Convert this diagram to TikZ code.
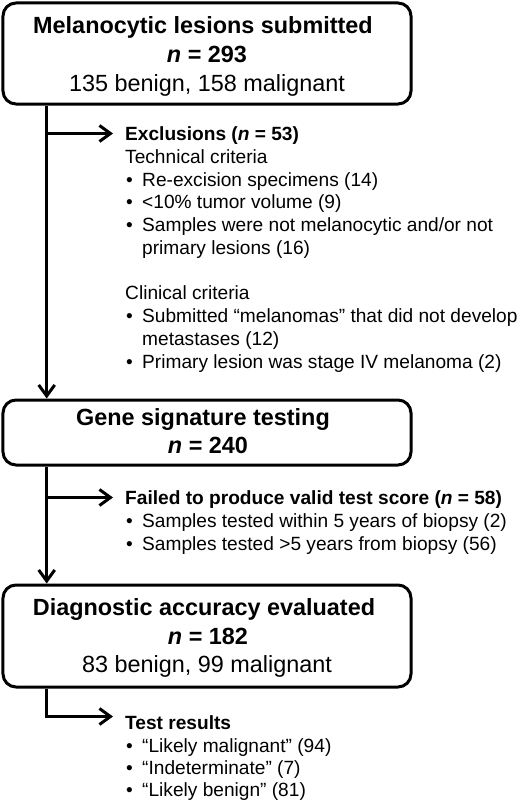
\documentclass[tikz,border=0pt]{standalone}
\usepackage{fontspec}
\setmainfont{Liberation Sans}
\usetikzlibrary{arrows.meta}
\begin{document}
\begin{tikzpicture}[x=1bp,y=-1bp,
  box/.style={draw, line width=3bp, rounded corners=13bp, inner sep=0pt, minimum width=408bp},
  bigt/.style={font=\fontsize{23.5}{28}\selectfont, inner sep=0pt, anchor=base},
  bigb/.style={font=\fontsize{23.5}{28}\selectfont\bfseries, inner sep=0pt, anchor=base},
  smt/.style={font=\fontsize{19.2}{23}\selectfont, inner sep=0pt, anchor=base west},
  smb/.style={font=\fontsize{19.2}{23}\selectfont\bfseries, inner sep=0pt, anchor=base west},
  conn/.style={line width=3bp},
  arr/.style={line width=3bp, -{Straight Barb[length=11bp,width=16bp]}},
]
\useasboundingbox (0,0) rectangle (520,804);
% boxes
\node[box, minimum height=101bp] (b1) at (207,53.5) {};
\node[box, minimum height=65bp] (b2) at (207,432.5) {};
\node[box, minimum height=102bp] (b3) at (207,636) {};
% box texts
\node[bigb] (t11) at (203,33.3) {Melanocytic lesions submitted};
\node[bigb] (t12) at (207,62.5) {\textit{n} = 293};
\node[bigt] (t13) at (207,91) {135 benign, 158 malignant};
\node[bigb] (t21) at (203,425) {Gene signature testing};
\node[bigb] (t22) at (208,453.5) {\textit{n} = 240};
\node[bigb] (t31) at (204,615) {Diagnostic accuracy evaluated};
\node[bigb] (t32) at (208,644) {\textit{n} = 182};
\node[bigt] (t33) at (207,672.5) {83 benign, 99 malignant};
% exclusions block
\node[smb] (e0) at (125,140) {Exclusions (\textit{n} = 53)};
\node[smt] (e1) at (125,163) {Technical criteria};
\node[smt] (e2b) at (126,186) {•};
\node[smt] (e2) at (142,186) {Re-excision specimens (14)};
\node[smt] (e3b) at (126,208.5) {•};
\node[smt] (e3) at (142,208.5) {<10\% tumor volume (9)};
\node[smt] (e4b) at (126,231) {•};
\node[smt] (e4) at (142,231) {Samples were not melanocytic and/or not};
\node[smt] (e5) at (142,254) {primary lesions (16)};
\node[smt] (e6) at (125,299) {Clinical criteria};
\node[smt] (e7b) at (126,322) {•};
\node[smt] (e7) at (142,322) {Submitted “melanomas” that did not develop};
\node[smt] (e8) at (142,345) {metastases (12)};
\node[smt] (e9b) at (126,368) {•};
\node[smt] (e9) at (142,368) {Primary lesion was stage IV melanoma (2)};
% failed block
\node[smb] (f0) at (125,504) {Failed to produce valid test score (\textit{n} = 58)};
\node[smt] (f1b) at (126,527.5) {•};
\node[smt] (f1) at (142,527.5) {Samples tested within 5 years of biopsy (2)};
\node[smt] (f2b) at (126,550) {•};
\node[smt] (f2) at (142,550) {Samples tested >5 years from biopsy (56)};
% test results block
\node[smb] (r0) at (125,729) {Test results};
\node[smt] (r1b) at (126,752) {•};
\node[smt] (r1) at (142,752) {“Likely malignant” (94)};
\node[smt] (r2b) at (126,774) {•};
\node[smt] (r2) at (142,774) {“Indeterminate” (7)};
\node[smt] (r3b) at (126,796) {•};
\node[smt] (r3) at (142,796) {“Likely benign” (81)};
% connectors
\coordinate (j1) at (46.7,133.5);
\coordinate (a1) at (113,133.5);
\coordinate (j2) at (46.7,497.5);
\coordinate (a2) at (113,497.5);
\coordinate (j3) at (46.7,716.5);
\coordinate (a3) at (113,716.5);
\draw[arr] (b1.south -| j1) -- (b2.north -| j1);
\draw[arr] (j1) -- (a1);
\draw[arr] (b2.south -| j2) -- (b3.north -| j2);
\draw[arr] (j2) -- (a2);
\draw[arr] (b3.south -| j3) -- (j3) -- (a3);
\end{tikzpicture}
\end{document}
